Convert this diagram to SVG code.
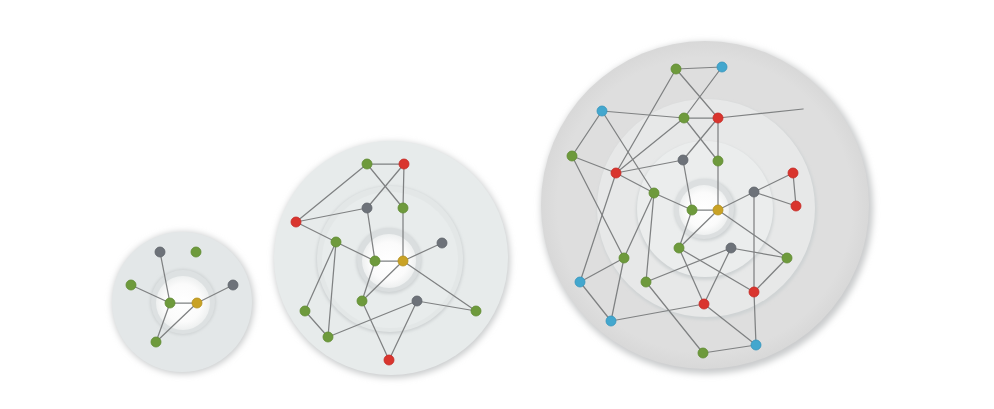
<svg xmlns="http://www.w3.org/2000/svg" width="994" height="409" viewBox="0 0 994 409">
<defs>
  <filter id="soft" x="-20%" y="-20%" width="140%" height="140%">
    <feGaussianBlur stdDeviation="3"/>
  </filter>
  <filter id="soft2" x="-20%" y="-20%" width="140%" height="140%">
    <feGaussianBlur stdDeviation="1.6"/>
  </filter>
  <radialGradient id="gOuterL" cx="50%" cy="50%" r="50%">
    <stop offset="0.9" stop-color="#dedede"/>
    <stop offset="1" stop-color="#d8d8d8"/>
  </radialGradient>
  <radialGradient id="gWhite" cx="50%" cy="50%" r="50%">
    <stop offset="0" stop-color="#ffffff"/>
    <stop offset="0.7" stop-color="#fbfbfb"/>
    <stop offset="1" stop-color="#eef0f0"/>
  </radialGradient>
  <style>
    .edge { stroke: #7f8182; stroke-width: 1.25; fill: none; stroke-linecap: round; }
    .n { stroke-width: 0.8; }
    .green { fill: #6e9a3c; stroke: #5e8a30; }
    .red { fill: #d9352e; stroke: #c42a24; }
    .gray { fill: #6d7279; stroke: #5e636a; }
    .yellow { fill: #c9a225; stroke: #b38f1a; }
    .cyan { fill: #43a7ce; stroke: #3594bb; }
    .shadow { fill: #c9cbcc; filter: url(#soft); }
    .ringshadow { fill: #cfd3d4; filter: url(#soft2); }
  </style>
</defs>
<rect width="994" height="409" fill="#ffffff"/>

<g id="backdrops">
  <!-- small -->
  <circle class="shadow" cx="183" cy="303" r="71"/>
  <circle cx="182" cy="302" r="70" fill="#e3e7e8"/>
  <circle class="ringshadow" cx="183" cy="302" r="33"/>
  <circle cx="183" cy="302" r="32" fill="#dde1e2"/>
  <circle cx="183" cy="303" r="27" fill="url(#gWhite)"/>

  <!-- middle -->
  <circle class="shadow" cx="392" cy="260" r="118"/>
  <circle cx="391" cy="258" r="117" fill="#e7ebeb"/>
  <circle class="ringshadow" cx="390" cy="260" r="74"/>
  <circle cx="390" cy="259" r="73" fill="#e3e7e7"/>
  <circle cx="390" cy="260" r="68" fill="#e8ecec"/>
  <circle class="ringshadow" cx="389" cy="261" r="33"/>
  <circle cx="389" cy="260" r="32" fill="#dadedf"/>
  <circle cx="389" cy="261" r="27" fill="url(#gWhite)"/>

  <!-- large -->
  <circle class="shadow" cx="707" cy="208" r="166"/>
  <circle cx="705" cy="205" r="164" fill="url(#gOuterL)"/>
  <circle class="ringshadow" cx="707" cy="210" r="110"/>
  <circle cx="706" cy="208" r="109" fill="#e7e8e8"/>
  <circle class="ringshadow" cx="705" cy="211" r="69"/>
  <circle cx="705" cy="209" r="68" fill="#ebeded"/>
  <circle class="ringshadow" cx="705" cy="210" r="31"/>
  <circle cx="704" cy="209" r="30" fill="#dcdfe0"/>
  <circle cx="704" cy="210" r="25" fill="url(#gWhite)"/>
</g>

<g id="connectors">
  <!-- small graph -->
  <line class="edge" x1="160" y1="252" x2="170" y2="303"/>
  <line class="edge" x1="131" y1="285" x2="170" y2="303"/>
  <line class="edge" x1="170" y1="303" x2="197" y2="303"/>
  <line class="edge" x1="197" y1="303" x2="233" y2="285"/>
  <line class="edge" x1="170" y1="303" x2="156" y2="342"/>
  <line class="edge" x1="197" y1="303" x2="156" y2="342"/>

  <!-- middle graph -->
  <line class="edge" x1="367" y1="164" x2="404" y2="164"/>
  <line class="edge" x1="367" y1="164" x2="296" y2="222"/>
  <line class="edge" x1="367" y1="164" x2="403" y2="208"/>
  <line class="edge" x1="404" y1="164" x2="367" y2="208"/>
  <line class="edge" x1="404" y1="164" x2="403" y2="208"/>
  <line class="edge" x1="296" y1="222" x2="367" y2="208"/>
  <line class="edge" x1="296" y1="222" x2="336" y2="242"/>
  <line class="edge" x1="336" y1="242" x2="375" y2="261"/>
  <line class="edge" x1="367" y1="208" x2="375" y2="261"/>
  <line class="edge" x1="403" y1="208" x2="403" y2="261"/>
  <line class="edge" x1="375" y1="261" x2="403" y2="261"/>
  <line class="edge" x1="403" y1="261" x2="442" y2="243"/>
  <line class="edge" x1="403" y1="261" x2="476" y2="311"/>
  <line class="edge" x1="403" y1="261" x2="362" y2="301"/>
  <line class="edge" x1="375" y1="261" x2="362" y2="301"/>
  <line class="edge" x1="336" y1="242" x2="305" y2="311"/>
  <line class="edge" x1="336" y1="242" x2="328" y2="337"/>
  <line class="edge" x1="305" y1="311" x2="328" y2="337"/>
  <line class="edge" x1="328" y1="337" x2="417" y2="301"/>
  <line class="edge" x1="417" y1="301" x2="476" y2="311"/>
  <line class="edge" x1="417" y1="301" x2="389" y2="360"/>
  <line class="edge" x1="362" y1="301" x2="389" y2="360"/>

  <!-- large graph -->
  <line class="edge" x1="676" y1="69" x2="722" y2="67"/>
  <line class="edge" x1="676" y1="69" x2="718" y2="118"/>
  <line class="edge" x1="676" y1="69" x2="616" y2="173"/>
  <line class="edge" x1="722" y1="67" x2="684" y2="118"/>
  <line class="edge" x1="602" y1="111" x2="684" y2="118"/>
  <line class="edge" x1="684" y1="118" x2="718" y2="118"/>
  <line class="edge" x1="718" y1="118" x2="803" y2="109"/>
  <line class="edge" x1="602" y1="111" x2="572" y2="156"/>
  <line class="edge" x1="602" y1="111" x2="654" y2="193"/>
  <line class="edge" x1="572" y1="156" x2="616" y2="173"/>
  <line class="edge" x1="572" y1="156" x2="624" y2="258"/>
  <line class="edge" x1="616" y1="173" x2="580" y2="282"/>
  <line class="edge" x1="616" y1="173" x2="684" y2="118"/>
  <line class="edge" x1="616" y1="173" x2="683" y2="160"/>
  <line class="edge" x1="616" y1="173" x2="654" y2="193"/>
  <line class="edge" x1="718" y1="118" x2="683" y2="160"/>
  <line class="edge" x1="718" y1="118" x2="718" y2="161"/>
  <line class="edge" x1="684" y1="118" x2="718" y2="161"/>
  <line class="edge" x1="683" y1="160" x2="692" y2="210"/>
  <line class="edge" x1="718" y1="161" x2="718" y2="210"/>
  <line class="edge" x1="654" y1="193" x2="692" y2="210"/>
  <line class="edge" x1="654" y1="193" x2="624" y2="258"/>
  <line class="edge" x1="654" y1="193" x2="646" y2="282"/>
  <line class="edge" x1="692" y1="210" x2="718" y2="210"/>
  <line class="edge" x1="718" y1="210" x2="754" y2="192"/>
  <line class="edge" x1="718" y1="210" x2="679" y2="248"/>
  <line class="edge" x1="718" y1="210" x2="787" y2="258"/>
  <line class="edge" x1="754" y1="192" x2="793" y2="173"/>
  <line class="edge" x1="754" y1="192" x2="796" y2="206"/>
  <line class="edge" x1="793" y1="173" x2="796" y2="206"/>
  <line class="edge" x1="754" y1="192" x2="754" y2="292"/>
  <line class="edge" x1="692" y1="210" x2="679" y2="248"/>
  <line class="edge" x1="679" y1="248" x2="704" y2="304"/>
  <line class="edge" x1="679" y1="248" x2="754" y2="292"/>
  <line class="edge" x1="731" y1="248" x2="646" y2="282"/>
  <line class="edge" x1="731" y1="248" x2="787" y2="258"/>
  <line class="edge" x1="731" y1="248" x2="704" y2="304"/>
  <line class="edge" x1="787" y1="258" x2="754" y2="292"/>
  <line class="edge" x1="754" y1="292" x2="756" y2="345"/>
  <line class="edge" x1="704" y1="304" x2="611" y2="321"/>
  <line class="edge" x1="704" y1="304" x2="756" y2="345"/>
  <line class="edge" x1="646" y1="282" x2="703" y2="353"/>
  <line class="edge" x1="703" y1="353" x2="756" y2="345"/>
  <line class="edge" x1="624" y1="258" x2="580" y2="282"/>
  <line class="edge" x1="624" y1="258" x2="611" y2="321"/>
  <line class="edge" x1="580" y1="282" x2="611" y2="321"/>
</g>

<g id="nodes">
  <!-- small -->
  <g id="s1"><circle class="n gray" cx="160" cy="252" r="5"/></g>
  <g id="s2"><circle class="n green" cx="196" cy="252" r="5"/></g>
  <g id="s3"><circle class="n green" cx="131" cy="285" r="5"/></g>
  <g id="s4"><circle class="n gray" cx="233" cy="285" r="5"/></g>
  <g id="s5"><circle class="n green" cx="170" cy="303" r="5"/></g>
  <g id="s6"><circle class="n yellow" cx="197" cy="303" r="5"/></g>
  <g id="s7"><circle class="n green" cx="156" cy="342" r="5"/></g>

  <!-- middle -->
  <g id="m_a"><circle class="n green" cx="367" cy="164" r="5"/></g>
  <g id="m_b"><circle class="n red" cx="404" cy="164" r="5"/></g>
  <g id="m_c"><circle class="n gray" cx="367" cy="208" r="5"/></g>
  <g id="m_d"><circle class="n green" cx="403" cy="208" r="5"/></g>
  <g id="m_e"><circle class="n red" cx="296" cy="222" r="5"/></g>
  <g id="m_f"><circle class="n green" cx="336" cy="242" r="5"/></g>
  <g id="m_g"><circle class="n gray" cx="442" cy="243" r="5"/></g>
  <g id="m_h"><circle class="n green" cx="375" cy="261" r="5"/></g>
  <g id="m_i"><circle class="n yellow" cx="403" cy="261" r="5"/></g>
  <g id="m_j"><circle class="n green" cx="362" cy="301" r="5"/></g>
  <g id="m_k"><circle class="n gray" cx="417" cy="301" r="5"/></g>
  <g id="m_l"><circle class="n green" cx="305" cy="311" r="5"/></g>
  <g id="m_m"><circle class="n green" cx="476" cy="311" r="5"/></g>
  <g id="m_n"><circle class="n green" cx="328" cy="337" r="5"/></g>
  <g id="m_o"><circle class="n red" cx="389" cy="360" r="5"/></g>

  <!-- large -->
  <g id="L_A"><circle class="n green" cx="676" cy="69" r="5"/></g>
  <g id="L_B"><circle class="n cyan" cx="722" cy="67" r="5"/></g>
  <g id="L_C"><circle class="n cyan" cx="602" cy="111" r="5"/></g>
  <g id="L_D"><circle class="n green" cx="684" cy="118" r="5"/></g>
  <g id="L_E"><circle class="n red" cx="718" cy="118" r="5"/></g>
  <g id="L_F"><circle class="n green" cx="572" cy="156" r="5"/></g>
  <g id="L_G"><circle class="n gray" cx="683" cy="160" r="5"/></g>
  <g id="L_H"><circle class="n green" cx="718" cy="161" r="5"/></g>
  <g id="L_I"><circle class="n red" cx="616" cy="173" r="5"/></g>
  <g id="L_J"><circle class="n red" cx="793" cy="173" r="5"/></g>
  <g id="L_K"><circle class="n gray" cx="754" cy="192" r="5"/></g>
  <g id="L_L"><circle class="n red" cx="796" cy="206" r="5"/></g>
  <g id="L_M"><circle class="n green" cx="654" cy="193" r="5"/></g>
  <g id="L_N"><circle class="n green" cx="692" cy="210" r="5"/></g>
  <g id="L_O"><circle class="n yellow" cx="718" cy="210" r="5"/></g>
  <g id="L_P"><circle class="n green" cx="679" cy="248" r="5"/></g>
  <g id="L_Q"><circle class="n gray" cx="731" cy="248" r="5"/></g>
  <g id="L_R"><circle class="n green" cx="787" cy="258" r="5"/></g>
  <g id="L_S"><circle class="n green" cx="624" cy="258" r="5"/></g>
  <g id="L_T"><circle class="n green" cx="646" cy="282" r="5"/></g>
  <g id="L_U"><circle class="n red" cx="754" cy="292" r="5"/></g>
  <g id="L_V"><circle class="n red" cx="704" cy="304" r="5"/></g>
  <g id="L_W"><circle class="n cyan" cx="580" cy="282" r="5"/></g>
  <g id="L_X"><circle class="n cyan" cx="611" cy="321" r="5"/></g>
  <g id="L_Y"><circle class="n green" cx="703" cy="353" r="5"/></g>
  <g id="L_Z"><circle class="n cyan" cx="756" cy="345" r="5"/></g>
</g>
</svg>
